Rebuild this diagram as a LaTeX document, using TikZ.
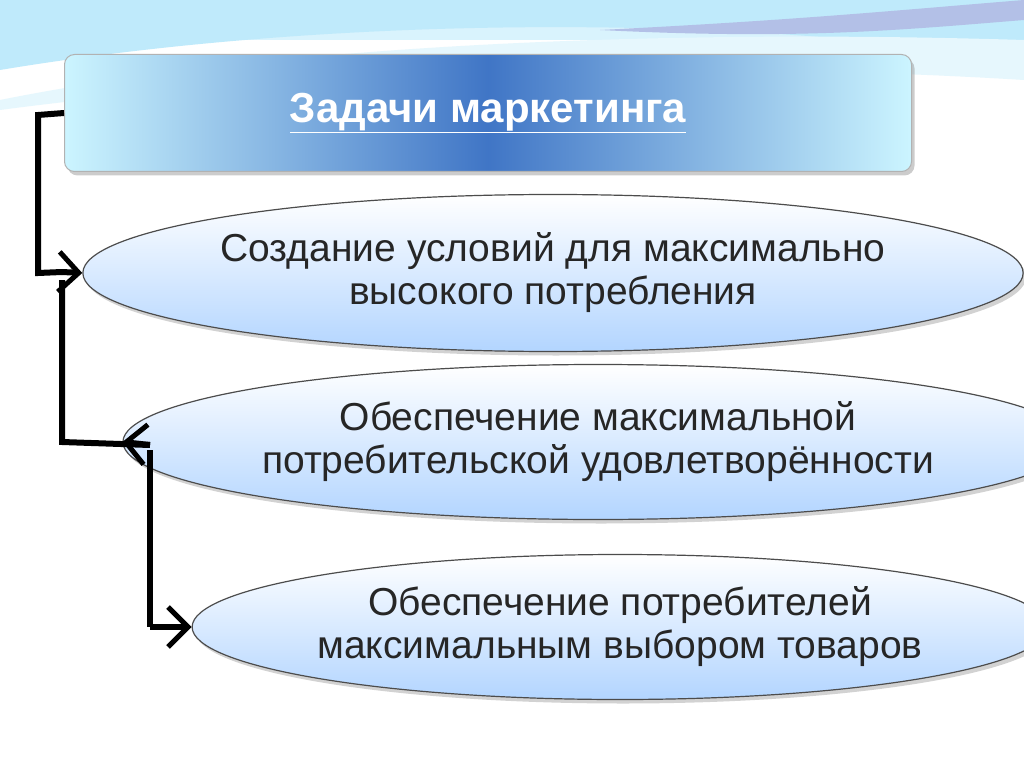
\documentclass[tikz,border=0pt]{standalone}
\usepackage{fontspec}
\setmainfont{Liberation Sans}
\usetikzlibrary{arrows.meta,shadows,shapes.geometric}
\begin{document}
\begin{tikzpicture}[x=1pt,y=-1pt,
  oval/.style={ellipse,draw=black!70,line width=1.2pt,top color=white,bottom color=cyan!45!blue!30,minimum width=#1,font=\fontsize{39}{43}\selectfont,text=black!85,align=center,inner sep=0pt,drop shadow={opacity=0.35,shadow xshift=3pt,shadow yshift=-4pt}},
  conn/.style={line width=6pt,-{Straight Barb[length=20pt,width=40pt,line width=5pt]}}]
\useasboundingbox (0,0) rectangle (1024,767);
\fill[white] (0,0) rectangle (1024,767);
% top decoration
\fill[cyan!15] (0,0) rectangle (1024,40);
\fill[cyan!25] (0,70) .. controls (300,20) and (700,10) .. (1024,60) -- (1024,0) -- (0,0) -- cycle;
\fill[cyan!10] (0,100) .. controls (300,40) and (700,30) .. (1024,40) -- (1024,80) .. controls (700,60) and (300,70) .. (0,110) -- cycle;
\fill[cyan!40!blue!30] (600,30) .. controls (800,20) and (900,10) .. (1024,0) -- (1024,20) .. controls (900,30) and (800,40) .. (600,30) -- cycle;
% title
\node[draw=gray!60,line width=1pt,rounded corners=10pt,minimum width=847pt,minimum height=117pt,
  left color=blue!20!cyan!20,right color=blue!20!cyan!20,middle color=blue!60!cyan!70!black!75,
  drop shadow={opacity=0.4,shadow xshift=3pt,shadow yshift=-4pt},
  text=white,font=\bfseries\fontsize{42}{48}\selectfont] (t) at (488,113) {\underline{Задачи маркетинга}};
\node[oval=886pt,minimum height=157pt] (e1) at (553,273) {Создание условий для максимально\\высокого потребления};
\node[oval=807pt,minimum height=155pt] (e2) at (598,442) {Обеспечение максимальной\\потребительской удовлетворённости};
\node[oval=766pt,minimum height=145pt] (e3) at (620,627) {Обеспечение потребителей\\максимальным выбором товаров};
\coordinate (a) at (38,115);
\coordinate (b) at (62,272);
\coordinate (c) at (150,445);
\draw[line width=6pt] (t.west) -- (a) -- (a|-e1.west) -- (b);
\draw[conn] (b) -- (e1.west);
\draw[line width=6pt] (62,280) -- (b|-e2.west) -- (c);
\draw[conn] (c) -- (e2.west);
\draw[line width=6pt] (150,450) -- (c|-e3.west);
\draw[conn] (c|-e3.west) -- (e3.west);
\end{tikzpicture}
\end{document}
